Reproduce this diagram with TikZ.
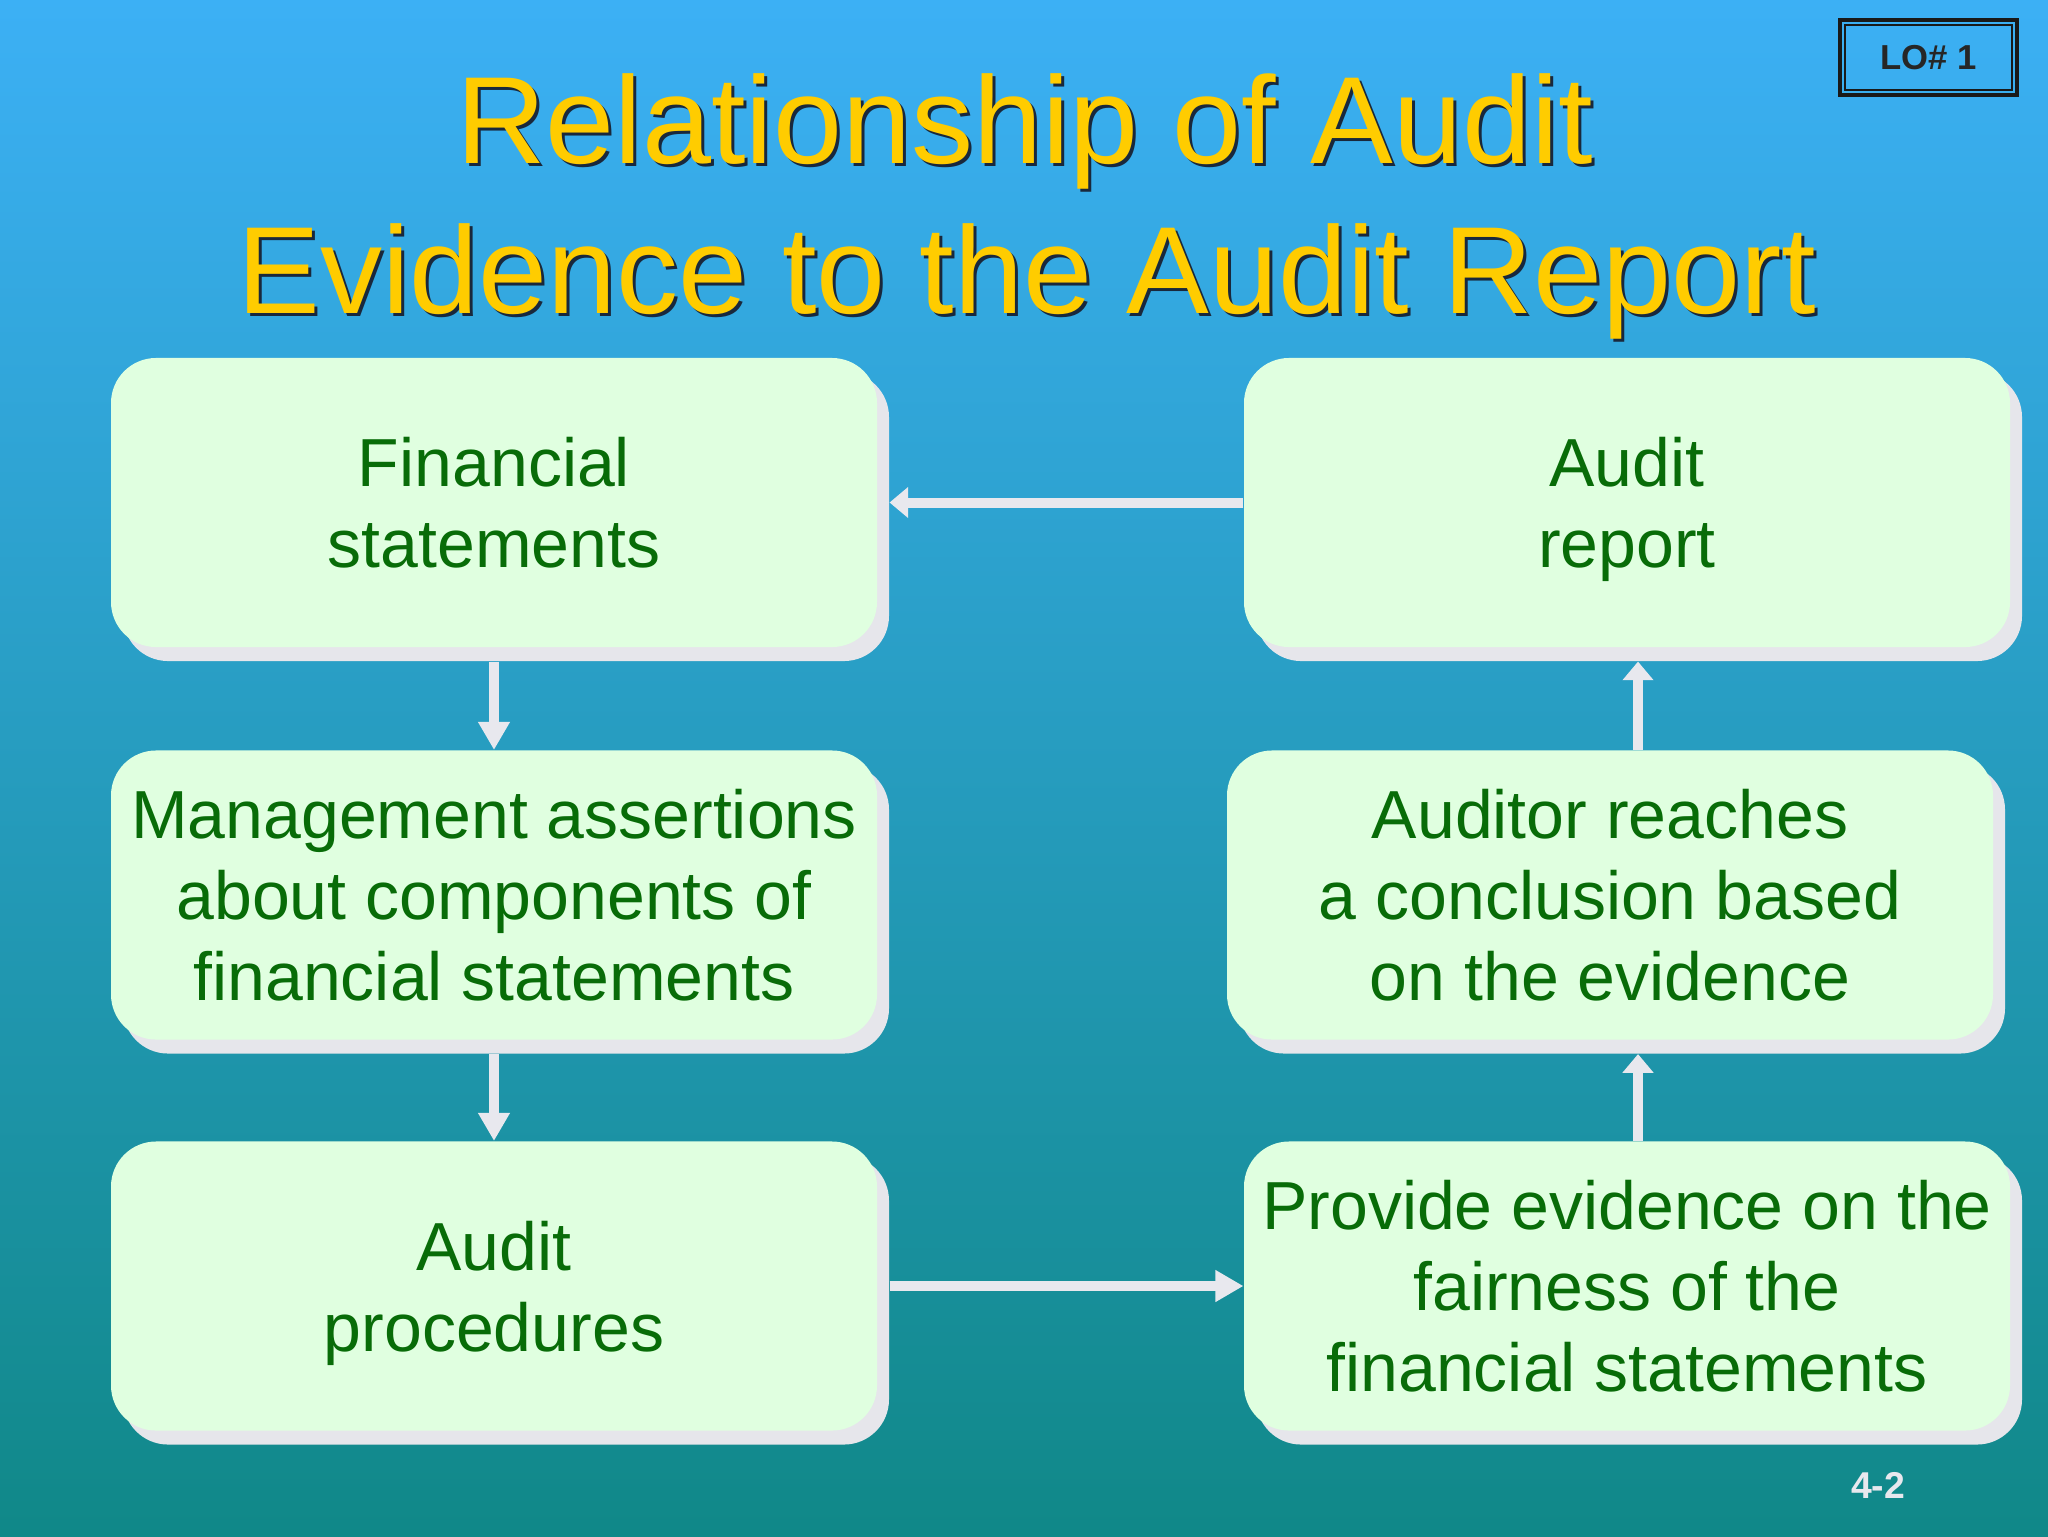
\documentclass[tikz,border=0pt]{standalone}
\usepackage{fontspec}
\setmainfont{Liberation Sans}
\usetikzlibrary{arrows.meta,shadows}
\definecolor{bgtop}{RGB}{60,176,245}
\definecolor{bgmid}{RGB}{37,152,200}
\definecolor{bgbot}{RGB}{16,136,136}
\definecolor{boxfill}{RGB}{224,255,224}
\definecolor{shadowc}{RGB}{230,230,235}
\definecolor{txtgreen}{RGB}{8,108,8}
\definecolor{titley}{RGB}{255,204,0}
\definecolor{titles}{RGB}{25,40,60}
\definecolor{arrowc}{RGB}{232,232,238}
\tikzset{
  stepbox/.style={rounded corners=16.9pt, fill=boxfill, draw=none, inner sep=0pt,
    minimum width=287.25pt, minimum height=108.4pt, align=center, text depth=0pt,
    text=txtgreen, font=\fontsize{25.5pt}{30.4pt}\selectfont,
    drop shadow={shadow xshift=4.5pt, shadow yshift=-5.25pt, fill=shadowc, opacity=1}},
  arrshort/.style={draw=arrowc, line width=3.75pt, -{Triangle[length=7pt,width=11.25pt]}},
  arrlong/.style={draw=arrowc, line width=3.75pt, -{Triangle[length=10.5pt,width=11.25pt]}},
  titlefont/.style={font=\fontsize{46.5pt}{56pt}\selectfont, anchor=base, inner sep=0pt}
}
\begin{document}
\begin{tikzpicture}[x=0.375pt,y=-0.375pt]
\useasboundingbox (0,0) rectangle (2048,1536);
\shade[top color=bgtop, middle color=bgmid, bottom color=bgbot] (0,0) rectangle (2048,1536);
% title
\node[titlefont, text=titles] (t1s) at (1028,166) {Relationship of Audit};
\node[titlefont, text=titley] (t1) at (1025,163) {Relationship of Audit};
\node[titlefont, text=titles] (t2s) at (1030,316) {Evidence to the Audit Report};
\node[titlefont, text=titley] (t2) at (1027,313) {Evidence to the Audit Report};
% LO box
\node[draw=black!90, line width=1.6pt, minimum width=66.4pt, minimum height=28.1pt, inner sep=0pt] (lo) at (1928.5,57.5) {};
\node[draw=black!90, line width=0.8pt, minimum width=62.6pt, minimum height=24.4pt, inner sep=0pt,
  font=\fontsize{13pt}{15pt}\selectfont\bfseries, text=black!85] (loi) at (1928.5,57.5) {LO\# 1};
% boxes
\node[stepbox] (b1) at (494,502.5) {Financial\\statements};
\node[stepbox] (b2) at (1627,502.5) {Audit\\report};
\node[stepbox] (b3) at (494,895) {Management assertions\\about components of\\financial statements};
\node[stepbox] (b4) at (1610,895) {Auditor reaches\\a conclusion based\\on the evidence};
\node[stepbox] (b5) at (494,1286) {Audit\\procedures};
\node[stepbox] (b6) at (1627,1286) {Provide evidence on the\\fairness of the\\financial statements};
% arrows
\coordinate (ax) at (1638,0);
\coordinate (s1e) at ([xshift=4.5pt]b1.east);
\coordinate (s5e) at ([xshift=4.5pt]b5.east);
\coordinate (s1s) at ([yshift=-5.25pt]b1.south);
\coordinate (s3s) at ([yshift=-5.25pt]b3.south);
\coordinate (s2s) at ([yshift=-5.25pt]b2.south);
\coordinate (s4s) at ([yshift=-5.25pt]b4.south);
\draw[arrshort] (b2.west) -- (s1e);
\draw[arrlong] (s1s) -- (b3.north);
\draw[arrlong] (s3s) -- (b5.north);
\draw[arrlong] (s5e) -- (b6.west |- s5e);
\draw[arrshort] (b6.north -| ax) -- (s4s -| ax);
\draw[arrshort] (b4.north -| ax) -- (s2s -| ax);
% page number
\node[font=\fontsize{14pt}{16pt}\selectfont\bfseries, text=arrowc] (pg) at (1878,1485) {4-2};
\end{tikzpicture}
\end{document}
